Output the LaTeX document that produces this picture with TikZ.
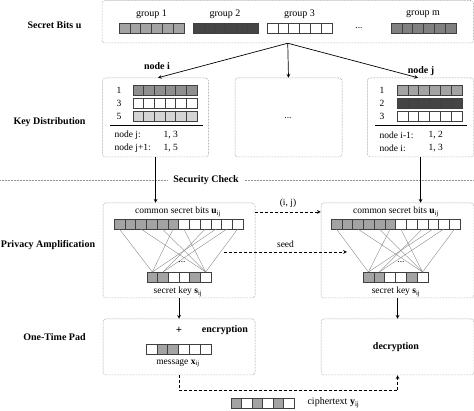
\documentclass[tikz,border=0pt]{standalone}
\usepackage{fontspec}
\setmainfont{Liberation Serif}

\definecolor{bitlite}{gray}{0.83}
\definecolor{bitmid}{gray}{0.64}
\definecolor{bitgrey}{gray}{0.56}
\definecolor{bitdeep}{gray}{0.50}
\definecolor{bitdark}{gray}{0.27}

% one row of bit cells: name, left x, centre y, cell width, fills
\newcommand{\bitrow}[5]{%
  \foreach \c [count=\k] in {#5}
    \node[cell, fill=\c, minimum width=#4] (#1\k) at ({#2+(\k-0.5)*#4}, #3) {};}

\begin{document}
\begin{tikzpicture}[
      x=1pt, y=-1pt,
      every node/.style={font=\fontsize{9.5}{11}\selectfont},
      panel/.style={draw=gray!85, dash pattern=on 0.6pt off 0.9pt, line width=0.5pt,
        rounded corners=3pt, inner sep=0pt},
      cell/.style={draw=black!75, line width=0.5pt, minimum height=10,
        inner sep=0pt, outer sep=0pt},
      stage/.style={font=\fontsize{10}{12}\selectfont\bfseries},
      arrow/.style={->, >=stealth, line width=0.7pt},
      dasharrow/.style={arrow, dash pattern=on 3pt off 2pt},
      hashline/.style={gray, line width=0.35pt},
    ]
    \useasboundingbox (0,0) rectangle (474,411);

    % Stage names
    \node[stage] (L1) at (54.5,25)  {Secret Bits u};
    \node[stage] (L2) at (49.5,122) {Key Distribution};
    \node[stage] (L3) at (48,245)   {Privacy Amplification};
    \node[stage] (L4) at (54.5,337) {One-Time Pad};

    % Secret bits
    \node[panel, minimum width=371.5, minimum height=42.5] (SB) at (287.75,21.75) {};
    \node[font=\fontsize{10}{12}\selectfont] (G1) at (151.5,14) {group 1};
    \node[font=\fontsize{10}{12}\selectfont] (G2) at (225,14)   {group 2};
    \node[font=\fontsize{10}{12}\selectfont] (G3) at (299.5,14) {group 3};
    \node[font=\fontsize{10}{12}\selectfont] (GM) at (423,14)   {group m};
    \bitrow{ga}{119}{28}{10.8}{bitmid,bitmid,bitmid,bitmid,bitmid,bitmid}
    \bitrow{gb}{193}{28}{10.8}{bitdark,bitdark,bitdark,bitdark,bitdark,bitdark}
    \bitrow{gc}{267}{28}{10.8}{white,white,white,white,white,white}
    \bitrow{gm}{391}{28}{10.8}{bitdeep,bitdeep,bitdeep,bitdeep,bitdeep,bitdeep}
    \node (GD) at (359,28) {...};

    % Key distribution
    \node[panel, minimum width=106, minimum height=79] (KDi) at (155.5,117.5) {};
    \node[panel, minimum width=107, minimum height=79] (KDm) at (288.5,117.5) {};
    \node[panel, minimum width=106.5, minimum height=79] (KDj) at (420.5,117.5) {};
    \node (KDd) at (288,118) {...};

    \draw[arrow] (SB.south) -- ([xshift=2.5]KDi.north);
    \draw[arrow] (SB.south) -- (KDm.north);
    \draw[arrow] (SB.south) -- ([xshift=-2.5]KDj.north);
    \node[stage] (NI) at (157,66) {node i};
    \node[stage] (NJ) at (421,71) {node j};

    \foreach \n/\y in {1/90.5, 3/103.5, 5/116} \node (Ni\n) at (119,\y) {\n};
    \bitrow{ka}{133}{90.5}{10.67}{bitgrey,bitgrey,bitgrey,bitgrey,bitgrey,bitgrey}
    \bitrow{kb}{133}{103.5}{10.67}{white,white,white,white,white,white}
    \bitrow{kc}{133}{116}{10.67}{bitlite,bitlite,bitlite,bitlite,bitlite,bitlite}
    \draw[line width=0.5pt] (110,125) -- (203,125);
    \node[anchor=west] (Ti1) at (111,135) {node j:};
    \node[anchor=west] (Vi1) at (160,135) {1, 3};
    \node[anchor=west] (Ti2) at (111,148) {node j+1:};
    \node[anchor=west] (Vi2) at (160,148) {1, 5};

    \foreach \n/\y in {1/90.5, 2/103.5, 3/116} \node (Nj\n) at (382,\y) {\n};
    \bitrow{kd}{397}{90.5}{10.83}{bitmid,bitmid,bitmid,bitmid,bitmid,bitmid}
    \bitrow{ke}{397}{103.5}{10.83}{bitdark,bitdark,bitdark,bitdark,bitdark,bitdark}
    \bitrow{kf}{397}{116}{10.83}{white,white,white,white,white,white}
    \draw[line width=0.5pt] (375,125) -- (467,125);
    \node[anchor=west] (Tj1) at (376,135) {node i-1:};
    \node[anchor=west] (Vj1) at (425,135) {1, 2};
    \node[anchor=west] (Tj2) at (376,148) {node i:};
    \node[anchor=west] (Vj2) at (425,148) {1, 3};

    % Security check
    \draw[gray!85, dash pattern=on 0.6pt off 0.9pt, line width=0.5pt] (0,180) -- (474,180);
    \node[stage, fill=white, inner xsep=5pt] (SC) at (206,180) {Security Check};

    % Privacy amplification
    \node[panel, minimum width=152, minimum height=95] (PAi) at (179,250.5) {};
    \node[panel, minimum width=153, minimum height=95] (PAj) at (397.5,250.5) {};
    \draw[arrow] (KDi.south) -- (KDi.south |- PAi.north);
    \draw[arrow] (KDj.south) -- (KDj.south |- PAj.north);

    \node (CSi) at (178,212) {common secret bits \textbf{u}\textsubscript{ij}};
    \node (CSj) at (396,212) {common secret bits \textbf{u}\textsubscript{ij}};
    \bitrow{ua}{114}{224}{10.75}{bitmid,bitmid,bitmid,bitmid,bitmid,bitmid,white,white,white,white,white,white}
    \bitrow{ub}{331}{224}{10.75}{bitmid,bitmid,bitmid,bitmid,bitmid,bitmid,white,white,white,white,white,white}
    \bitrow{sa}{147}{277}{10.67}{bitmid,bitmid,white,white,bitmid,white}
    \bitrow{sb}{363}{277}{10.83}{bitmid,bitmid,white,white,bitmid,white}
    \foreach \t/\b in {1/1, 3/6, 5/6, 6/1, 7/6, 9/2, 10/1, 11/2, 12/6} {
      \draw[hashline] (ua\t.south) -- (sa\b.north);
      \draw[hashline] (ub\t.south) -- (sb\b.north);
    }
    \node (SDi) at (182,262) {...};
    \node (SDj) at (401,262) {...};
    \node (SKi) at (178,292) {secret key \textbf{s}\textsubscript{ij}};
    \node (SKj) at (396,292) {secret key \textbf{s}\textsubscript{ij}};

    \draw[dasharrow] (PAi.east |- CSi) -- node[above=1pt] {(i, j)} (PAj.west |- CSj);
    \coordinate (SEa) at (224,252);
    \coordinate (SEb) at (347,252);
    \draw[dasharrow] (SEa) -- node[above=1pt] {seed} (SEb);

    % One-time pad
    \node[panel, minimum width=152, minimum height=56] (OTi) at (179,347) {};
    \node[panel, minimum width=153, minimum height=56] (OTj) at (397.5,347) {};
    \draw[arrow] (PAi.south) -- (OTi.north);
    \draw[arrow] (PAj.south) -- (OTj.north);

    \node[font=\fontsize{11}{12}\selectfont\bfseries] (PL) at (179,330) {+};
    \node[stage] (EN) at (225,330) {encryption};
    \bitrow{xa}{146}{349.5}{10.83}{white,bitmid,bitmid,white,white,white}
    \node (MS) at (178,363) {message \textbf{x}\textsubscript{ij}};
    \node[stage] (DE) at (396,347) {decryption};

    \draw[dasharrow] (OTi.south) -- ++(0,15.5) -| (OTj.south);
    \bitrow{ya}{231}{403.5}{10.5}{bitmid,white,bitmid,white,bitmid,white}
    \node[anchor=west, font=\fontsize{10}{12}\selectfont] (CT) at (304,403) {ciphertext \textbf{y}\textsubscript{ij}};
  \end{tikzpicture}
\end{document}
